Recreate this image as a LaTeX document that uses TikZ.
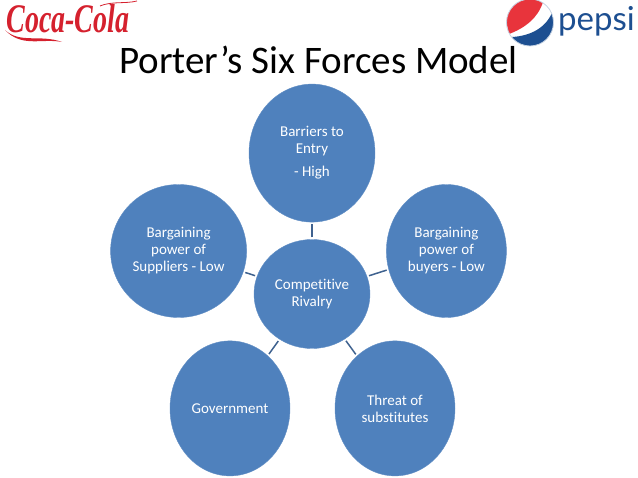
\documentclass[tikz,border=0pt]{standalone}
\usepackage{fontspec}
\usepackage{graphicx}
\setmainfont{Carlito}[Ligatures=NoCommon]
\newfontfamily\cokefont{Liberation Serif}
\newfontfamily\pepsifont{Lato}
\usetikzlibrary{positioning}
\usetikzlibrary{shapes.geometric}
\usepackage{xcolor}
\definecolor{forceblue}{HTML}{4F81BD}
\definecolor{spokeblue}{HTML}{3F628F}
\definecolor{cokered}{HTML}{D5212E}
\definecolor{pepsired}{HTML}{E8343C}
\definecolor{pepsiblue}{HTML}{1D4F91}

\begin{document}
\begin{tikzpicture}[
		x=1pt, y=-1pt,
		forcenode/.style={ellipse, fill=forceblue, draw=forceblue!90!white, text=white, inner sep=0pt, align=center, font=\fontsize{15}{17}\selectfont},
		spoke/.style={draw=spokeblue, line width=1.5pt, shorten >=2pt, shorten <=2pt},
		]
		\useasboundingbox (0,0) rectangle (638,478);
		%Nodes
		\node[forcenode, minimum width=116, minimum height=109] (rivalry) at (312,294) {Competitive\\Rivalry};
		\node[forcenode, minimum width=126, minimum height=138] (barriers) [above=17pt of rivalry] {Barriers to\\Entry\\[6pt]- High};
		\node[forcenode, minimum width=136, minimum height=133] (suppliers) [left=7pt of rivalry, yshift=43] {Bargaining\\power of\\Suppliers - Low};
		\node[forcenode, minimum width=120, minimum height=133] (buyers) [right=16pt of rivalry, yshift=43] {Bargaining\\power of\\buyers - Low};
		\node[forcenode, minimum width=120, minimum height=135] (government) [below=-8pt of rivalry, xshift=-82] {Government};
		\node[forcenode, minimum width=120, minimum height=135] (substitutes) [below=-8pt of rivalry, xshift=83] {Threat of\\substitutes};
		
		%Title
		\node[inner sep=0pt, font=\fontsize{39}{42}\selectfont] (title) at (318.5,60) {Porter’s Six Forces Model};
		
		%Logos
		\node[inner sep=0pt, text=cokered, font=\fontsize{28}{28}\cokefont\itshape\bfseries] (coke) at (68,19) {\scalebox{1}[1.45]{Coca-Cola}};
		\fill[cokered] (5,30) .. controls (20,44) and (40,34) .. (62,42) .. controls (42,38) and (22,48) .. (5,30) -- cycle;
		\draw[cokered, line width=0.8pt] (100,6) .. controls (112,1) and (125,4) .. (137,1);
		\begin{scope}
			\clip (530,22.5) circle (23.5);
			\fill[white] (500,-5) rectangle (560,50);
			\fill[pepsired] (500,-5) -- (546,-5) -- (543,2) .. controls (538,18) and (525,28) .. (509,34) -- cycle;
			\fill[pepsiblue] (512,37) .. controls (530,36) and (547,28) .. (553,10) -- (560,50) -- (500,50) -- cycle;
		\end{scope}
		\draw[pepsiblue!25, line width=0.8pt] (530,22.5) circle (23.5);
		\node[inner sep=0pt, text=pepsiblue, font=\fontsize{33}{33}\pepsifont] (pepsi) at (596.5,21) {pepsi};
		
		%Lines
		\draw[spoke] (rivalry) -- (barriers);
		\draw[spoke] (rivalry) -- (suppliers);
		\draw[spoke] (rivalry) -- (buyers);
		\draw[spoke] (rivalry) -- (government);
		\draw[spoke] (rivalry) -- (substitutes);
	\end{tikzpicture}
\end{document}
